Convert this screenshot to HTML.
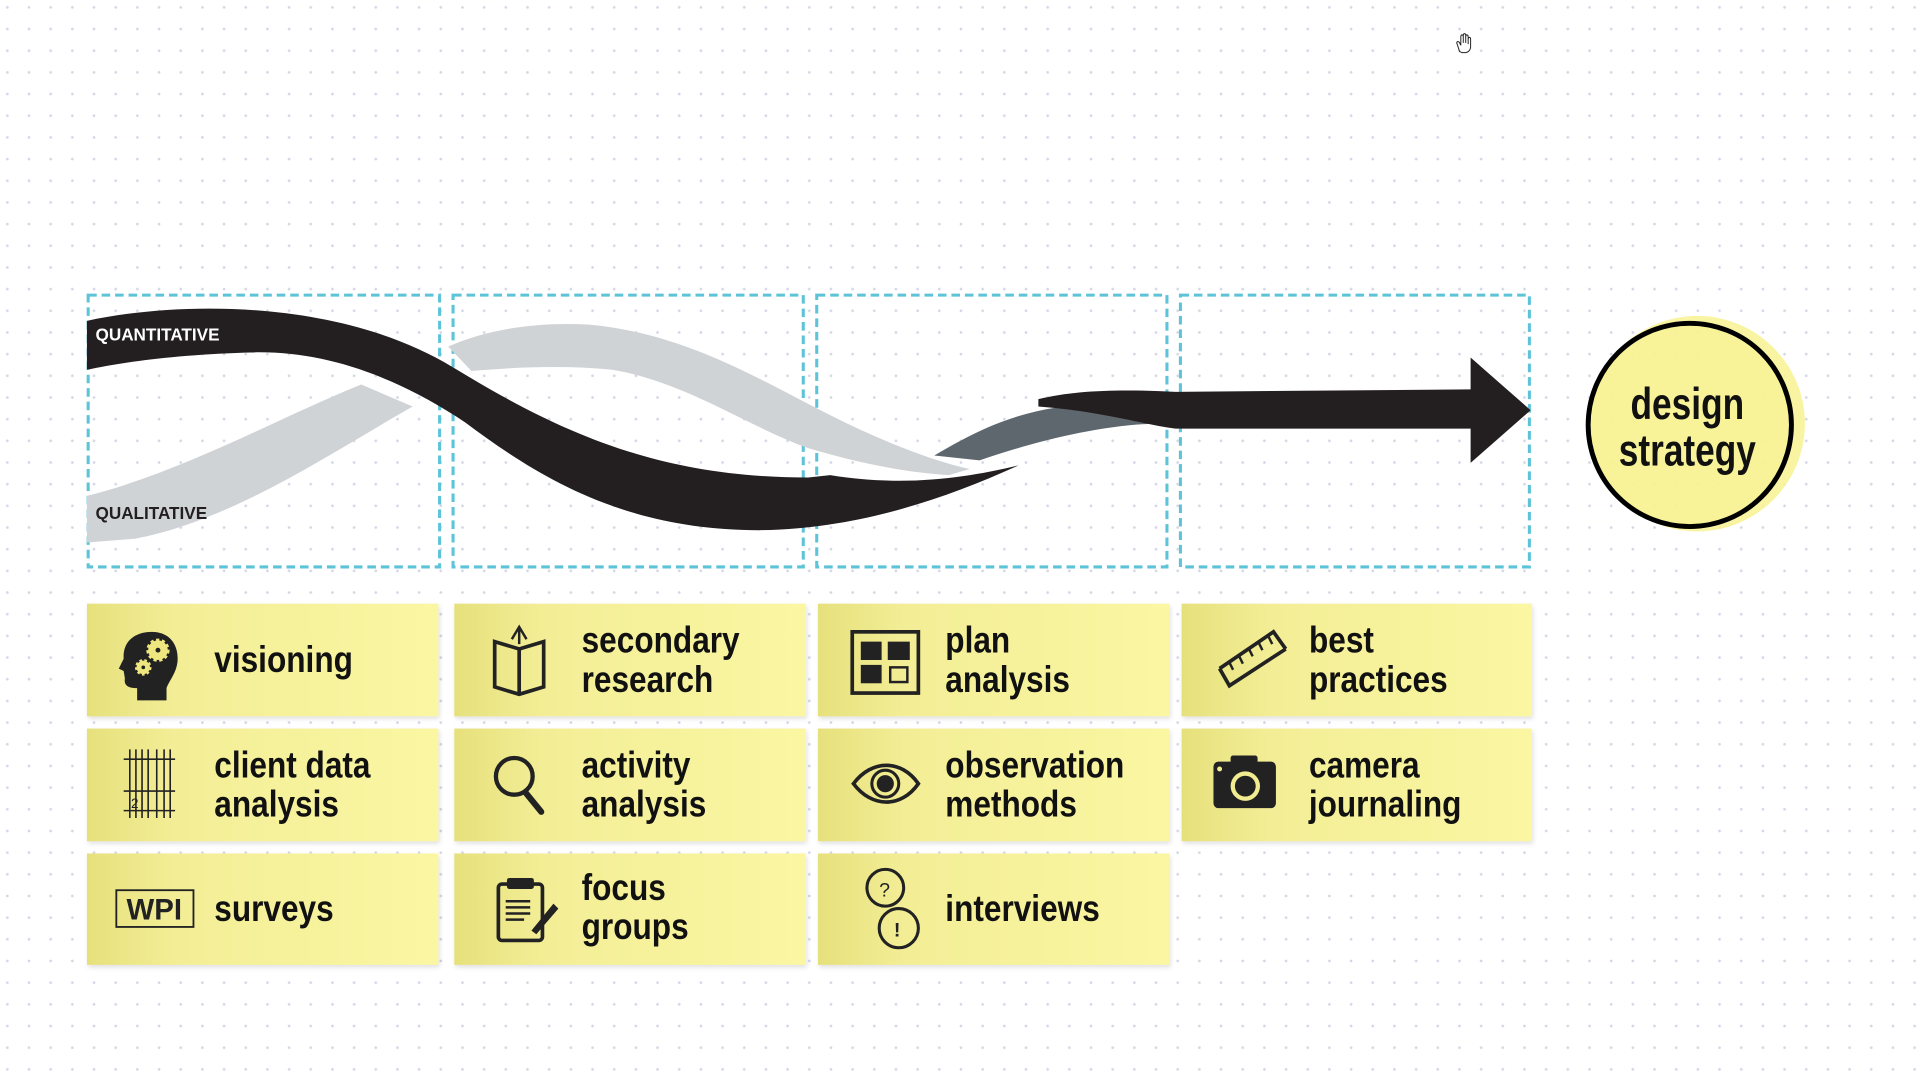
<!DOCTYPE html>
<html><head><meta charset="utf-8"><style>
html,body{margin:0;padding:0;background:#fff;width:1920px;height:1080px;overflow:hidden}
svg{display:block}
.t{font-family:"Liberation Sans Narrow","Liberation Sans",sans-serif;font-weight:bold;font-size:30px;fill:#111;transform-box:fill-box;transform-origin:0 0;transform:scaleX(0.86)}
.c{font-family:"Liberation Sans",sans-serif;font-weight:bold;font-size:36px;fill:#111;transform-box:fill-box;transform-origin:50% 0;transform:scaleX(0.8)}
.lab{font-family:"Liberation Sans",sans-serif;font-weight:bold;font-size:14px}
</style></head><body>
<svg width="1920" height="1080" viewBox="0 0 1568 882" preserveAspectRatio="none" xmlns="http://www.w3.org/2000/svg">
<defs>
<pattern id="dots" x="4" y="4" width="17.7" height="17.7" patternUnits="userSpaceOnUse">
<circle cx="2" cy="2" r="1.1" fill="#d4d6e6"/>
</pattern>
<linearGradient id="sticky" x1="0" x2="1" y1="0" y2="0">
<stop offset="0" stop-color="#e6e07c"/><stop offset="0.25" stop-color="#f3ee96"/><stop offset="1" stop-color="#faf6a2"/>
</linearGradient>
<filter id="sh" x="-5%" y="-10%" width="110%" height="125%"><feDropShadow dx="1" dy="2" stdDeviation="2" flood-color="#000" flood-opacity="0.12"/></filter>
</defs>
<rect width="1568" height="882" fill="#fff"/>
<rect width="1568" height="882" fill="url(#dots)"/>

<g fill="none" stroke="#5cc3d8" stroke-width="2.5" stroke-dasharray="7,4">
<rect x="72" y="241" width="287" height="222"/>
<rect x="370" y="241" width="286" height="222"/>
<rect x="667" y="241" width="286" height="222"/>
<rect x="964" y="241" width="285" height="222"/>
</g>

<!-- ribbons -->
<path d="M71,405 C150,385 230,340 295,314 L337,332 C270,370 190,425 110,440 L71,443 Z" fill="#d0d3d6"/>
<path d="M366,283 C400,268 440,263 480,265 C560,272 620,310 680,340 C720,360 760,376 792,383 L775,388 C740,386 700,378 660,366 C610,348 560,312 500,302 C460,298 420,300 385,303 Z" fill="#d0d3d6"/>
<path d="M71,262 C150,245 280,245 370,300 C460,355 540,390 660,390 L678,388 C740,398 790,390 832,380 C770,408 700,432 620,433 C510,433 440,390 380,345 C320,305 260,285 200,288 C140,290 100,296 71,302 Z" fill="#231f20"/>
<path d="M763,372 C800,350 840,330 900,330 L948,346 C900,346 840,362 800,376 Z" fill="#5e676e"/>
<path d="M848,326 C880,318 920,318 960,320 L1201,318 L1201,292 L1250,335 L1201,378 L1201,350 L960,350 C930,346 900,336 848,332 Z" fill="#231f20"/>
<text x="78" y="278" class="lab" fill="#fff">QUANTITATIVE</text>
<text x="78" y="424" class="lab" fill="#231f20">QUALITATIVE</text>

<circle cx="1386" cy="346" r="88" fill="#f8f290" fill-opacity="0.85"/>
<circle cx="1380" cy="347" r="83" fill="#f8f290" fill-opacity="0.5" stroke="#000" stroke-width="4"/>
<text x="1378" y="342" text-anchor="middle" class="c">design</text>
<text x="1378" y="380" text-anchor="middle" class="c">strategy</text>

<!-- hand cursor -->
<path d="M1192,42 L1190,36 C1189,34 1191,33 1192,35 L1193,37 L1193,30 C1193,28 1195,28 1195,30 L1195,35 L1195,29 C1195,27 1197,27 1197,29 L1197,35 L1197,30 C1197,28 1199,28 1199,30 L1199,36 L1199,32 C1199,30 1201,30 1201,32 L1201,38 C1201,41 1199,43 1196,43 L1194,43 Z" fill="#fff" stroke="#222" stroke-width="0.8"/>

<g filter="url(#sh)" fill="url(#sticky)">
<rect x="71" y="493" width="287" height="92"/>
<rect x="371" y="493" width="287" height="92"/>
<rect x="668" y="493" width="287" height="92"/>
<rect x="965" y="493" width="286" height="92"/>
<rect x="71" y="595" width="287" height="92"/>
<rect x="371" y="595" width="287" height="92"/>
<rect x="668" y="595" width="287" height="92"/>
<rect x="965" y="595" width="286" height="92"/>
<rect x="71" y="697" width="287" height="91"/>
<rect x="371" y="697" width="287" height="91"/>
<rect x="668" y="697" width="287" height="91"/>
</g>

<text x="175" y="549" class="t">visioning</text>
<text x="475" y="533" class="t">secondary</text><text x="475" y="565" class="t">research</text>
<text x="772" y="533" class="t">plan</text><text x="772" y="565" class="t">analysis</text>
<text x="1069" y="533" class="t">best</text><text x="1069" y="565" class="t">practices</text>
<text x="175" y="635" class="t">client data</text><text x="175" y="667" class="t">analysis</text>
<text x="475" y="635" class="t">activity</text><text x="475" y="667" class="t">analysis</text>
<text x="772" y="635" class="t">observation</text><text x="772" y="667" class="t">methods</text>
<text x="1069" y="635" class="t">camera</text><text x="1069" y="667" class="t">journaling</text>
<text x="175" y="752" class="t">surveys</text>
<text x="475" y="735" class="t">focus</text><text x="475" y="767" class="t">groups</text>
<text x="772" y="752" class="t">interviews</text>

<!-- head -->
<path d="M112,572 L112,562 C105,562 101,560 102,554 L101,548 L97,546 L101,538 C100,524 110,516 124,516 C138,516 146,526 145,540 C144,550 138,556 136,562 L136,572 Z" fill="#222"/>
<circle cx="129" cy="531" r="8" fill="#eee77f" stroke="#eee77f" stroke-width="3" stroke-dasharray="2.5,2"/>
<circle cx="129" cy="531" r="2" fill="#222"/>
<circle cx="117" cy="545" r="5.5" fill="#eee77f" stroke="#eee77f" stroke-width="2.5" stroke-dasharray="2,1.8"/>
<circle cx="117" cy="545" r="1.5" fill="#222"/>
<!-- book -->
<path d="M404,524 L424,530 L444,524 L444,561 L424,567 L404,561 Z M424,530 L424,567" fill="none" stroke="#222" stroke-width="3"/>
<path d="M418,522 L424,512 L430,522 M424,512 V526" fill="none" stroke="#222" stroke-width="2"/>
<!-- plan -->
<rect x="696" y="516" width="54" height="50" fill="none" stroke="#222" stroke-width="3"/>
<rect x="703" y="524" width="17" height="15" fill="#222"/><rect x="725" y="524" width="18" height="15" fill="#222"/>
<rect x="703" y="543" width="17" height="15" fill="#222"/><rect x="727" y="545" width="14" height="12" fill="none" stroke="#222" stroke-width="2"/>
<!-- ruler -->
<path d="M996,546 L1040,516 L1050,530 M996,546 L1004,560 L1050,530" fill="none" stroke="#222" stroke-width="3"/>
<path d="M1004,541 l3,6 M1012,536 l3,6 M1020,530 l3,6 M1028,525 l3,6 M1036,520 l3,6" stroke="#222" stroke-width="2"/>
<!-- grid -->
<g stroke="#222" stroke-width="1.3">
<path d="M106,612 V668 M111,612 V668 M116,612 V668 M121,612 V668 M128,612 V668 M134,612 V668 M139,612 V668"/>
<path d="M101,620 H143 M101,646 H143 M101,662 H143"/>
</g>
<text x="107" y="660" style="font:11px 'Liberation Sans',sans-serif" fill="#222">2</text>
<!-- magnifier -->
<circle cx="420" cy="634" r="15" fill="none" stroke="#222" stroke-width="3.5"/>
<path d="M429,647 L442,663" stroke="#222" stroke-width="5" stroke-linecap="round"/>
<!-- eye -->
<path d="M697,640 C712,620 736,620 750,640 C736,660 712,660 697,640 Z" fill="none" stroke="#222" stroke-width="3"/>
<circle cx="723" cy="640" r="11" fill="none" stroke="#222" stroke-width="2.5"/><circle cx="723" cy="640" r="7" fill="#222"/>
<!-- camera -->
<rect x="991" y="622" width="51" height="38" rx="4" fill="#222"/><rect x="1005" y="617" width="22" height="8" rx="2" fill="#222"/>
<circle cx="1017" cy="642" r="12" fill="#f1ec90"/><circle cx="1017" cy="642" r="8.5" fill="#222"/><circle cx="996" cy="628" r="2" fill="#f1ec90"/>
<!-- WPI -->
<rect x="95" y="727" width="63" height="30" fill="none" stroke="#222" stroke-width="1.5"/>
<text x="126" y="751" text-anchor="middle" style="font:bold 24px 'Liberation Sans',sans-serif" fill="#222">WPI</text>
<!-- clipboard -->
<rect x="407" y="722" width="36" height="46" rx="3" fill="none" stroke="#222" stroke-width="3"/>
<rect x="414" y="717" width="22" height="9" rx="2" fill="#222"/>
<path d="M413,736 h20 M413,741 h20 M413,746 h20 M413,751 h15" stroke="#222" stroke-width="2"/>
<path d="M434,760 L452,738 L456,742 L438,763 Z" fill="#222"/>
<!-- interviews -->
<circle cx="723" cy="725" r="15" fill="none" stroke="#222" stroke-width="2.5"/>
<circle cx="734" cy="758" r="16" fill="none" stroke="#222" stroke-width="2.5"/>
<text x="718" y="732" style="font:16px 'Liberation Sans',sans-serif" fill="#222">?</text>
<text x="730" y="765" style="font:bold 16px 'Liberation Sans',sans-serif" fill="#222">!</text>
</svg>
</body></html>
